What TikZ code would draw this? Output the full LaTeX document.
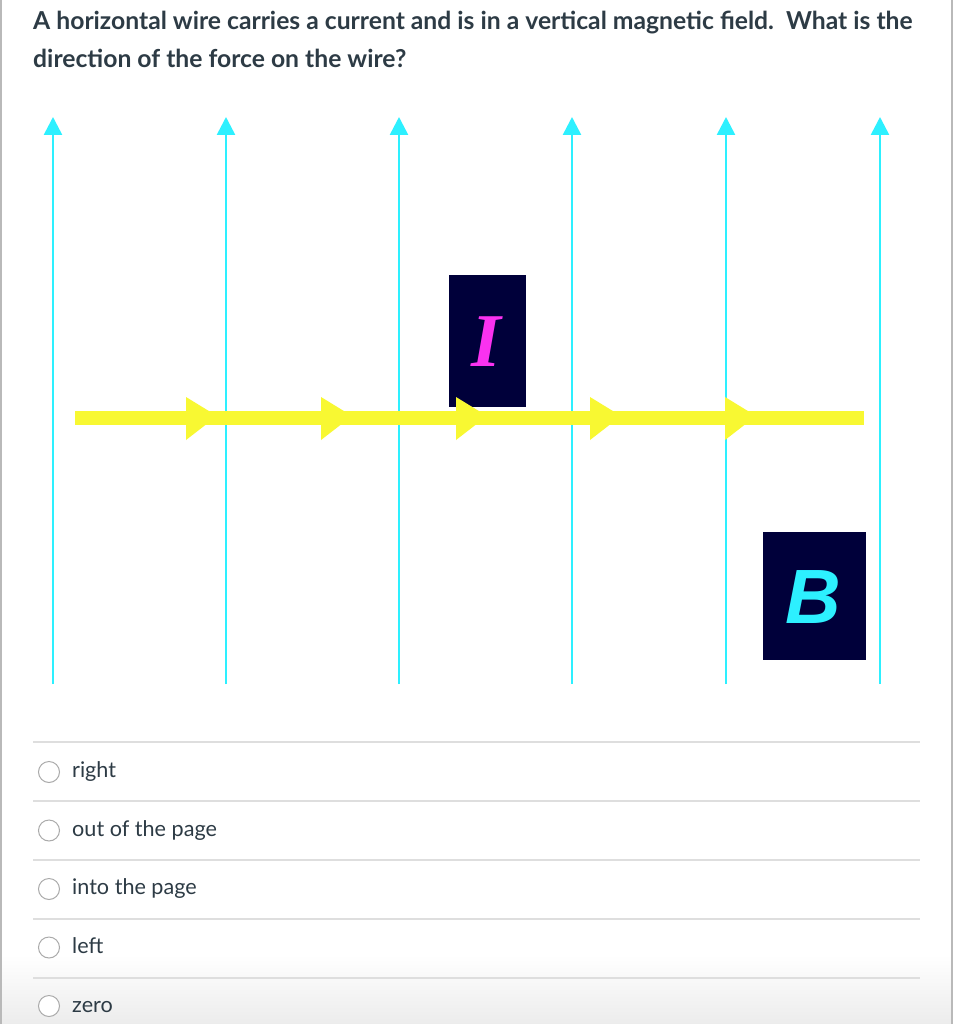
\documentclass[tikz,border=0pt]{standalone}
\usepackage{fontspec}
\setmainfont{Lato}
\newfontfamily\serifit{Liberation Serif}
\newfontfamily\sansbf{Liberation Sans}
\usetikzlibrary{arrows.meta}
\definecolor{fieldcyan}{RGB}{45,240,255}
\definecolor{wireyellow}{RGB}{248,248,50}
\definecolor{boxnavy}{RGB}{0,0,58}
\definecolor{curmag}{RGB}{250,50,240}
\definecolor{txt}{RGB}{45,59,69}
\definecolor{sepgray}{RGB}{222,222,222}
\definecolor{bordergray}{RGB}{185,185,185}
\definecolor{radiogray}{RGB}{170,170,170}
\definecolor{shadegray}{RGB}{236,236,236}
\tikzset{
  fieldline/.style={draw=fieldcyan, line width=2.6pt, -{Triangle[length=18pt,width=18pt]}},
  wireline/.style={draw=wireyellow, line width=14pt},
  wirehead/.style={fill=wireyellow},
  labelbox/.style={fill=boxnavy, draw=none, inner sep=0pt},
  sepline/.style={draw=sepgray, line width=1.5pt},
  radio/.style={circle, draw=radiogray, line width=1pt, minimum size=21pt, inner sep=0pt, fill=white},
  answer/.style={anchor=base west, inner sep=0pt, text=txt, font=\fontsize{21.6}{25}\selectfont},
  titletext/.style={anchor=base west, inner sep=0pt, text=txt, font=\fontsize{24.7}{29}\selectfont\bfseries}
}
\begin{document}
\begin{tikzpicture}[x=1pt,y=-1pt]
\useasboundingbox (0,0) rectangle (959,1024);
\fill[white] (0,0) rectangle (959,1024);
\shade[top color=white, bottom color=shadegray] (2,955) rectangle (951,1024);
\draw[bordergray, line width=2pt] (1,0) -- (1,1024);
\draw[bordergray, line width=2pt] (951.5,0) -- (951.5,1024);

% title
\node[titletext] (t1) at (33,30) {A horizontal wire carries a current and is in a vertical magnetic field.\ \ What is the};
\node[titletext] (t2) at (33,68) {direction of the force on the wire?};

% field lines
\foreach \i/\x in {1/53,2/226,3/399,4/572,5/726,6/880}{
  \coordinate (fb\i) at (\x,684);
  \coordinate (ft\i) at (\x,117);
  \draw[fieldline] (fb\i) -- (ft\i);
}

% I box
\node[labelbox, minimum width=77pt, minimum height=132pt] (ibox) at (487.5,341) {};
\node[text=curmag, font=\serifit\bfseries\itshape\fontsize{76}{76}\selectfont, inner sep=0pt, anchor=base] (ilabel) at (486,366) {I};

% wire
\coordinate (w0) at (75,418);
\coordinate (w1) at (864,418);
\draw[wireline] (w0) -- (w1);
\foreach \b in {186,321,456,590,725}{
  \fill[wirehead] (\b,397) -- (\b+31,416) -- (\b,440) -- cycle;
}

% B box
\node[labelbox, minimum width=103pt, minimum height=128pt] (bbox) at (814.5,596) {};
\node[text=fieldcyan, font=\sansbf\bfseries\itshape\fontsize{77}{77}\selectfont, inner sep=0pt, anchor=base] (blabel) at (813,623) {B};

% answers
\foreach \k/\y in {1/742,2/801,3/860,4/919,5/978}{
  \coordinate (sl\k) at (33,\y);
  \coordinate (sr\k) at (920,\y);
  \draw[sepline] (sl\k) -- (sr\k);
}
\node[radio] (r1) at (49,772) {};
\node[radio] (r2) at (49,830.5) {};
\node[radio] (r3) at (49,889) {};
\node[radio] (r4) at (49,947.5) {};
\node[radio] (r5) at (49,1006) {};
\node[answer] (a1) at (72,777) {right};
\node[answer] (a2) at (72,836) {out of the page};
\node[answer] (a3) at (72,894.5) {into the page};
\node[answer] (a4) at (72,953) {left};
\node[answer] (a5) at (72,1012) {zero};
\end{tikzpicture}
\end{document}
